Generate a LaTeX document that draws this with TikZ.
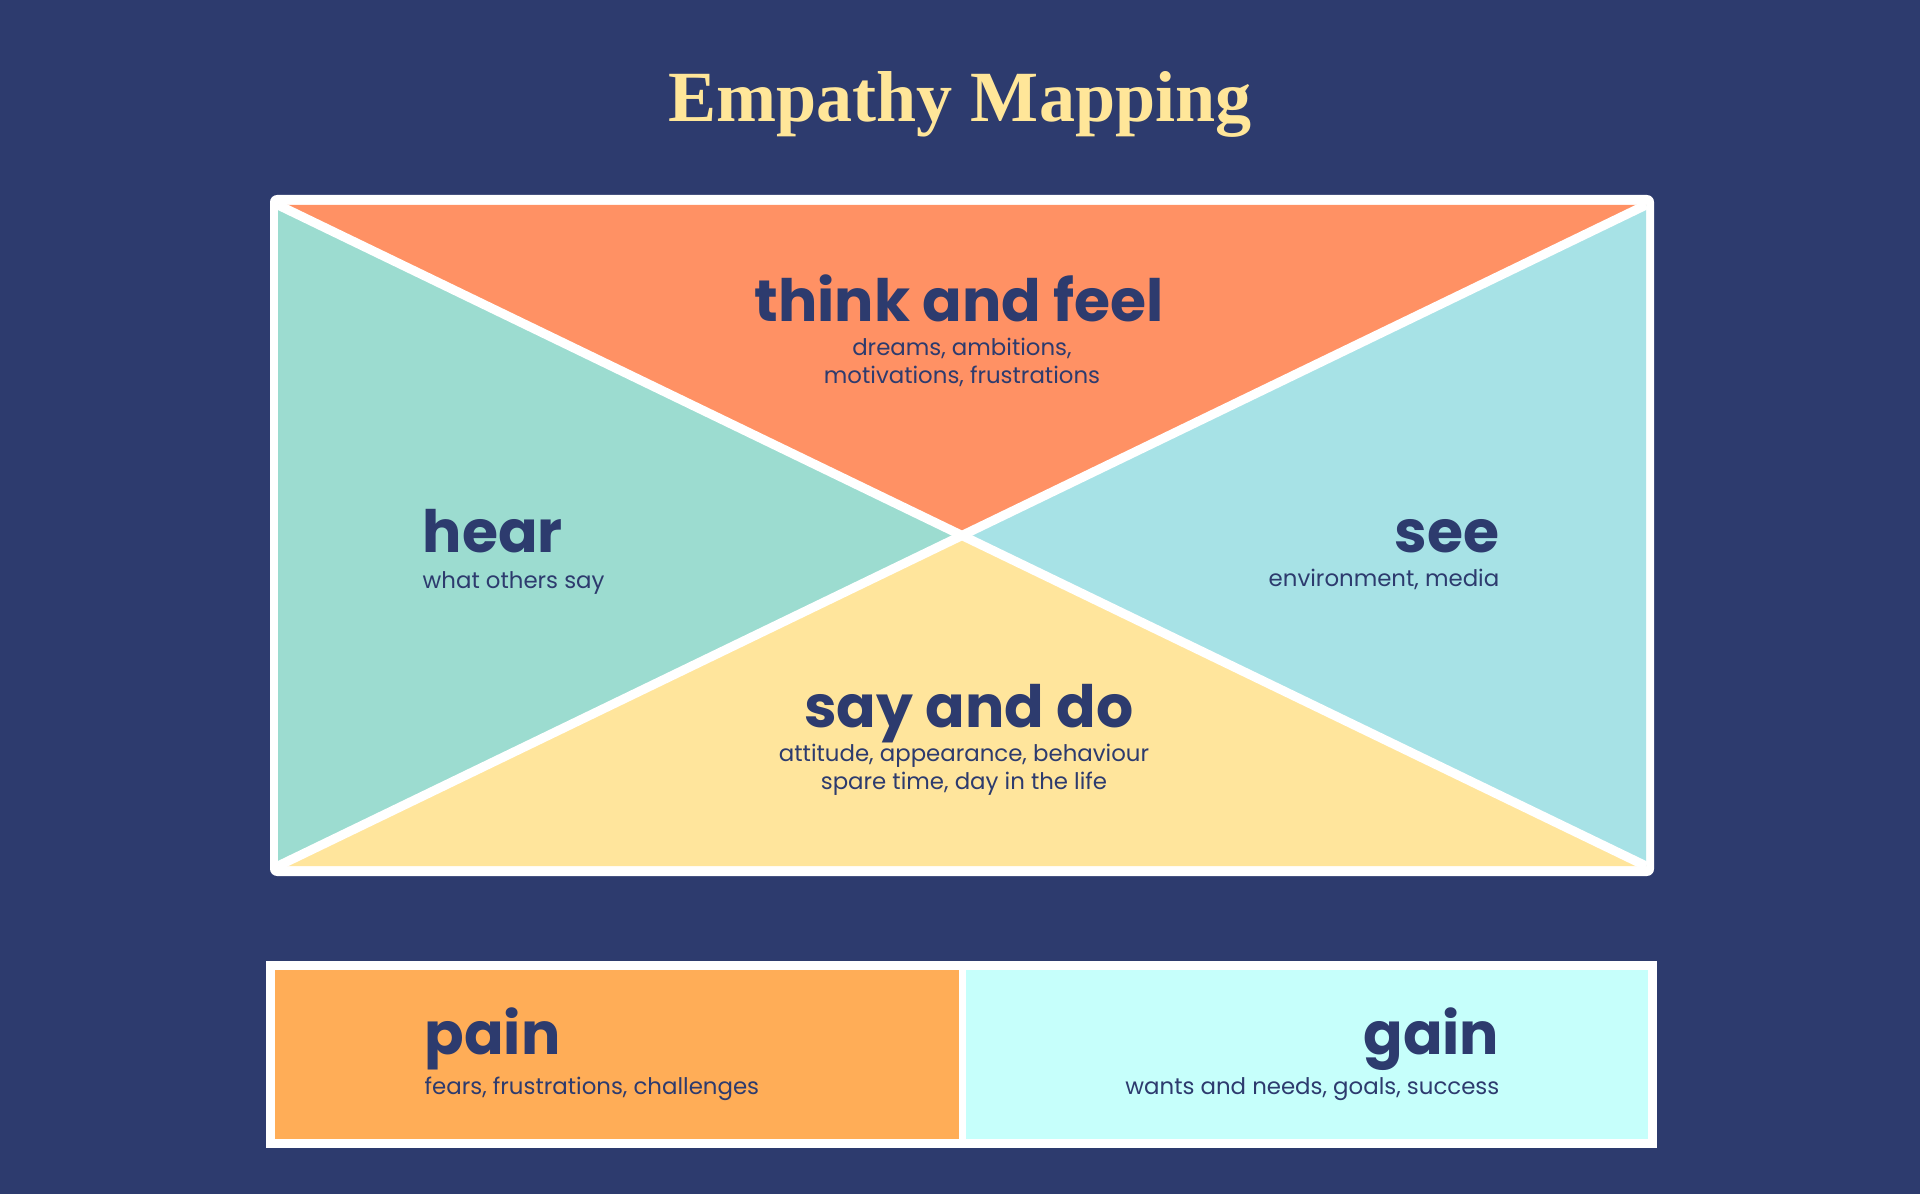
\documentclass[tikz,border=0pt]{standalone}
\usepackage{fontspec}
\setmainfont{Poppins}
\newfontfamily\titlefont{Liberation Serif}

\definecolor{bgblue}{HTML}{2D3B6E}
\definecolor{titleyellow}{HTML}{FFE699}
\definecolor{thinkorange}{HTML}{FF9164}
\definecolor{hearteal}{HTML}{9CDCD0}
\definecolor{seeblue}{HTML}{A7E2E6}
\definecolor{sayyellow}{HTML}{FFE59C}
\definecolor{painorange}{HTML}{FFAD57}
\definecolor{gaincyan}{HTML}{C6FFFB}

\tikzset{
  head/.style={font=\bfseries\fontsize{16.6}{20}\selectfont, text=bgblue, inner sep=0pt},
  sub/.style={font=\fontsize{6.5}{8}\selectfont, text=bgblue, inner sep=0pt, align=center},
}

\begin{document}
\begin{tikzpicture}[x=0.01cm,y=-0.01cm]
            \fill[bgblue] (0,0) rectangle (1920,1194);
            \useasboundingbox (0,0) rectangle (1920,1194);

            \coordinate (TL) at (278, 205);
            \coordinate (TR) at (1646, 205);
            \coordinate (BL) at (278, 866);
            \coordinate (BR) at (1646, 866);
            \coordinate (MID) at (962, 535.5);

            % map frame and quadrants
            \fill[white,rounded corners=2pt] (270, 195) rectangle (1654, 876);
            \fill[thinkorange] (TL) -- (TR) -- (MID) -- cycle;
            \fill[hearteal] (TL) -- (MID) -- (BL) -- cycle;
            \fill[seeblue] (TR) -- (BR) -- (MID) -- cycle;
            \fill[sayyellow] (BL) -- (MID) -- (BR) -- cycle;
            \draw[white,line width=2.6pt] (TL) -- (BR);
            \draw[white,line width=2.6pt] (TR) -- (BL);

            % pain and gain
            \fill[white] (266, 961) rectangle (1657, 1148);
            \fill[painorange] (275, 970) rectangle (959, 1139);
            \fill[gaincyan] (966, 970) rectangle (1648, 1139);

            \node[font=\titlefont\bfseries\fontsize{20.5}{24}\selectfont,text=titleyellow,inner sep=0pt,anchor=base] (TITLE) at (960, 122) {Empathy Mapping};

            \node[head,anchor=base] (THINK) at (959, 322) {think and feel};
            \node[sub,anchor=north] (THINKSUB) at (962, 337) {dreams, ambitions,\\motivations, frustrations};

            \node[head,anchor=base west] (HEAR) at (422, 553) {hear};
            \node[sub,anchor=base west] (HEARSUB) at (422, 588) {what others say};

            \node[head,anchor=base east] (SEE) at (1500, 552) {see};
            \node[sub,anchor=base east] (SEESUB) at (1500, 587) {environment, media};

            \node[head,anchor=base] (SAY) at (969, 727) {say and do};
            \node[sub,anchor=north] (SAYSUB) at (964, 743) {attitude, appearance, behaviour\\spare time, day in the life};

            \node[head,anchor=base west] (PAIN) at (424, 1054) {pain};
            \node[sub,anchor=base west] (PAINSUB) at (424, 1094) {fears, frustrations, challenges};

            \node[head,anchor=base east] (GAIN) at (1500, 1054) {gain};
            \node[sub,anchor=base east] (GAINSUB) at (1500, 1094) {wants and needs, goals, success};

\end{tikzpicture}
\end{document}
